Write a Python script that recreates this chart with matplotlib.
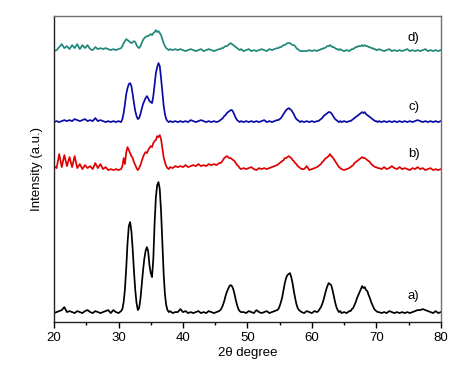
import matplotlib
matplotlib.use('Agg')
import matplotlib.pyplot as plt
from matplotlib.ticker import MultipleLocator

plt.rcParams['font.family'] = ['Liberation Sans', 'DejaVu Sans']

# shared 2theta grid (degrees)
two_theta = [
    20.0, 20.4, 20.8, 21.2, 21.6, 22.0, 22.4, 22.8, 23.2, 23.6, 24.0, 24.4, 24.8, 25.2,
    25.6, 26.0, 26.4, 26.8, 27.2, 27.6, 28.0, 28.4, 28.8, 29.2, 29.6, 30.0, 30.4,
    30.6, 30.8, 31.0, 31.2, 31.4, 31.6, 31.8, 32.0, 32.2, 32.4, 32.6, 32.8, 33.0, 33.2,
    33.4, 33.6, 33.8, 34.0, 34.2, 34.4, 34.6, 34.8, 35.0, 35.2, 35.4, 35.6, 35.8, 36.0,
    36.2, 36.4, 36.6, 36.8, 37.0, 37.2, 37.4, 37.6, 37.8, 38.0,
    38.4, 38.8, 39.2, 39.6, 40.0, 40.4, 40.8, 41.2, 41.6, 42.0, 42.4, 42.8, 43.2, 43.6,
    44.0, 44.4, 44.8, 45.2, 45.6,
    45.8, 46.0, 46.2, 46.4, 46.6, 46.8, 47.0, 47.2, 47.4, 47.6, 47.8, 48.0, 48.2, 48.4,
    48.6, 48.8, 49.0,
    49.4, 49.8, 50.2, 50.6, 51.0, 51.4, 51.8, 52.2, 52.6, 53.0, 53.4, 53.8, 54.2, 54.6,
    54.8, 55.0, 55.2, 55.4, 55.6, 55.8, 56.0, 56.2, 56.4, 56.6, 56.8, 57.0, 57.2, 57.4,
    57.6, 57.8, 58.0, 58.2, 58.4,
    58.8, 59.2, 59.6, 60.0, 60.4, 60.8,
    61.0, 61.2, 61.4, 61.6, 61.8, 62.0, 62.2, 62.4, 62.6, 62.8, 63.0, 63.2, 63.4, 63.6,
    63.8, 64.0, 64.2, 64.4, 64.6,
    65.0, 65.4, 65.8,
    66.0, 66.2, 66.4, 66.6, 66.8, 67.0, 67.2, 67.4, 67.6, 67.8, 68.0, 68.2, 68.4, 68.6,
    68.8, 69.0, 69.2, 69.4, 69.6, 69.8, 70.0, 70.2, 70.4,
    70.8, 71.2, 71.6, 72.0, 72.4, 72.8, 73.2, 73.6, 74.0, 74.4, 74.8, 75.2, 75.6, 76.0,
    76.4, 76.8, 77.2, 77.6, 78.0, 78.4, 78.8, 79.2, 79.6, 80.0,
]

# intensities (a.u.), each relative to its own baseline
int_a = [
    0, 1, 2, 3, 6, 1, 2, 1, 0, 2, 1, 0, 2, 3, 1, 0, 2, 1, 0, 1, 2, 3, 0, 3, 1, 0, 2,
    4, 11, 24, 45, 70, 87, 91, 82, 64, 42, 23, 10, 3, 5, 14, 28, 42, 54, 62, 66,
    62, 48, 40, 36, 54, 90, 116, 128, 131, 124, 102, 70, 40, 19, 8, 3, 1, 2,
    0, 1, 1, 4, 1, 2, 0, 1, 0, 1, 2, 0, 1, 0, 2, 1, 0, 1, 2,
    3, 5, 8, 12, 17, 21, 24, 27, 28, 27, 24, 19, 13, 8, 4, 2, 1,
    1, 0, 2, 1, 0, 3, 1, 0, 1, 2, 0, 1, 2, 3,
    4, 7, 11, 16, 23, 30, 35, 38, 39, 40, 36, 30, 22, 15, 9, 5, 3, 2, 1,
    0, 2, 1, 0, 2, 1,
    2, 4, 6, 9, 13, 18, 23, 27, 30, 29, 28, 23, 17, 11, 6, 3, 1, 2, 0,
    1, 0, 2,
    2, 4, 5, 8, 11, 15, 18, 21, 24, 27, 25, 26, 23, 22, 18, 15, 11, 8, 5, 3, 2, 1, 1,
    0, 1, 0, 2, 1, 0, 1, 0, 1, 0, 1, 0, 1, 2, 3, 3, 4, 3, 2, 1, 0, 2, 0, 1,
]
int_b = [
    4, 2, 16, 3, 15, 4, 13, 3, 14, 2, 6, 1, 5, 2, 4, 1, 7, 2, 6, 1, 3, 0, 1, 0, 1, 0, 1,
    4, 12, 6, 18, 23, 20, 17, 14, 12, 8, 5, 2, 0, 2, 5, 9, 13, 16, 18, 17,
    20, 22, 24, 23, 27, 29, 30, 34, 33, 35, 31, 22, 13, 8, 4, 2, 1, 3,
    2, 4, 3, 4, 3, 5, 3, 4, 5, 4, 6, 4, 5, 4, 6, 5, 6, 5, 7,
    7, 8, 10, 12, 13, 14, 13, 12, 12, 11, 10, 9, 7, 5, 4, 2, 1,
    2, 1, 2, 3, 1, 0, 2, 1, 2, 1, 2, 3, 4, 5,
    6, 7, 8, 9, 10, 12, 12, 13, 14, 13, 12, 10, 9, 7, 6, 4, 3, 2, 1,
    1, 4, 0, 1, 2, 3,
    4, 5, 6, 8, 9, 11, 12, 13, 14, 16, 14, 13, 11, 9, 7, 5, 3, 2, 1,
    0, 1, 2,
    3, 4, 5, 7, 8, 9, 10, 11, 12, 13, 12, 12, 11, 10, 9, 8, 6, 5, 4, 3, 3, 2, 2,
    1, 3, 1, 2, 4, 2, 1, 3, 1, 2, 1, 0, 2, 1, 3, 1, 2, 0, 1, 2, 0, 1, 0, 1,
]
int_c = [
    0, 1, 0, 1, 2, 1, 2, 1, 3, 2, 1, 2, 3, 1, 2, 1, 4, 1, 2, 1, 0, 1, 0, 1, 0, 1, 0,
    3, 9, 18, 28, 34, 38, 39, 36, 28, 19, 11, 6, 3, 4, 8, 13, 18, 21, 24, 26,
    24, 21, 20, 19, 26, 38, 49, 55, 59, 56, 44, 30, 17, 8, 3, 1, 0, 1,
    0, 1, 0, 1, 0, 1, 0, 2, 1, 0, 1, 2, 1, 0, 1, 0, 1, 0, 1,
    2, 3, 4, 6, 7, 9, 10, 11, 12, 12, 10, 7, 4, 2, 1, 0, 1,
    0, 1, 0, 1, 0, 1, 0, 1, 2, 0, 1, 0, 1, 2,
    2, 3, 4, 6, 8, 10, 12, 13, 14, 13, 12, 10, 8, 5, 3, 2, 1, 0, 1,
    0, 1, 0, 1, 0, 1,
    1, 2, 3, 4, 6, 7, 8, 9, 10, 10, 9, 7, 5, 3, 2, 1, 0, 1, 0,
    1, 0, 1,
    1, 2, 3, 4, 5, 6, 7, 8, 9, 10, 9, 10, 8, 7, 6, 5, 4, 3, 2, 1, 1, 0, 1,
    0, 1, 0, 1, 0, 1, 0, 1, 0, 1, 0, 1, 0, 1, 2, 1, 0, 1, 0, 1, 0, 1, 0, 1,
]
int_d = [
    0, 1, 4, 7, 3, 5, 2, 6, 3, 7, 2, 6, 3, 6, 2, 1, 4, 2, 3, 2, 3, 2, 1, 2, 1, 2, 3,
    5, 8, 10, 12, 11, 10, 9, 8, 9, 10, 9, 6, 4, 3, 5, 8, 11, 13, 14, 15,
    15, 16, 17, 16, 18, 19, 21, 19, 20, 18, 16, 12, 8, 5, 3, 2, 1, 2,
    1, 2, 1, 2, 1, 0, 1, 2, 1, 0, 1, 2, 0, 1, 2, 1, 0, 1, 2,
    2, 3, 3, 4, 5, 5, 6, 7, 8, 7, 6, 5, 4, 3, 2, 1, 2,
    0, 1, 2, 0, 1, 0, 1, 2, 1, 0, 2, 1, 2, 3,
    3, 4, 4, 5, 6, 6, 7, 8, 8, 8, 7, 6, 6, 5, 3, 2, 1, 0, 0,
    0, 0, 1, 0, 1, 0,
    1, 1, 2, 2, 3, 3, 4, 5, 5, 6, 5, 4, 4, 3, 2, 2, 1, 2, 1,
    0, 1, 0,
    1, 2, 2, 3, 4, 4, 5, 5, 5, 6, 5, 6, 5, 5, 4, 4, 3, 3, 2, 2, 1, 1, 2,
    1, 0, 1, 2, 0, 1, 0, 1, 0, 1, 2, 0, 1, 0, 1, 0, 1, 2, 0, 1, 0, 1, 0, 1,
]

sample_labels = ['a)', 'b)', 'c)', 'd)']

# (data, baseline offset, colour, label height)
series = [
    (int_a, 9, '#000000', 26),
    (int_b, 152, '#e00000', 168),
    (int_c, 200, '#0a0aa8', 215),
    (int_d, 271, '#20887a', 284),
]

fig = plt.figure(figsize=(4.74, 3.66), dpi=100)
ax = fig.add_axes([0.114, 0.120, 0.816, 0.836])

for (ys, off, col, ly), lab in zip(series, sample_labels):
    ax.plot(two_theta, [v + off for v in ys], color=col, lw=1.25)
    ax.text(75.8, ly, lab, ha='center', va='center', fontsize=9.5)

ax.set_xlim(20, 80)
ax.set_ylim(0, 306)
ax.set_yticks([])
ax.xaxis.set_major_locator(MultipleLocator(10))
ax.xaxis.set_minor_locator(MultipleLocator(5))
ax.tick_params(axis='x', which='major', direction='out', length=4, width=1, labelsize=9.5, pad=3)
ax.tick_params(axis='x', which='minor', direction='out', length=2.5, width=1)

ax.spines['left'].set_color('#222222')
ax.spines['bottom'].set_color('#222222')
ax.spines['top'].set_color('#707070')
ax.spines['right'].set_color('#707070')
for s in ax.spines.values():
    s.set_linewidth(1.0)

ax.set_xlabel('2θ degree', fontsize=9.5, labelpad=2)
ax.set_ylabel('Intensity (a.u.)', fontsize=9.5, labelpad=8)

fig.savefig('out.png', dpi=100)
